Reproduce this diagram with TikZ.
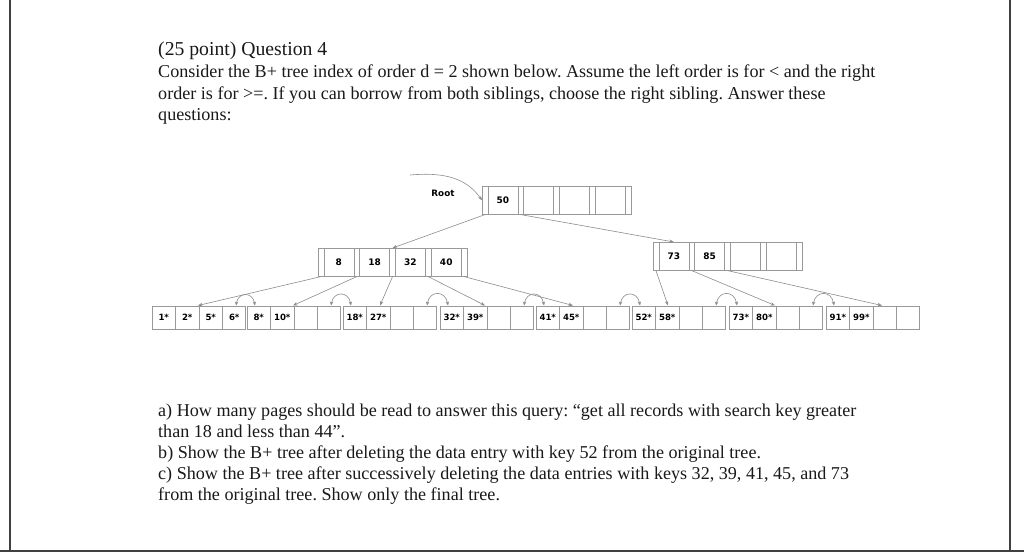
\documentclass[tikz,border=0pt]{standalone}
\usepackage{fontspec}
\setmainfont{Liberation Serif}
\newfontfamily\keyfont{DejaVu Sans}
\usetikzlibrary{shapes.multipart, arrows.meta, positioning}

\newcommand{\ks}[1]{\makebox[29.3pt]{#1}}
\newcommand{\ps}{\makebox[5.3pt]{}}
\newcommand{\lc}[1]{\makebox[22.9pt]{#1}}

\begin{document}
\frenchspacing
\begin{tikzpicture}[x=1pt, y=1pt,
    qtext/.style = {anchor=base west, inner sep=0pt, text=black!90, font=\fontsize{18.1}{22}\selectfont},
    qhead/.style = {qtext, font=\fontsize{19.7}{22}\selectfont},
    inode/.style = {rectangle split, rectangle split horizontal, rectangle split parts=9, draw=gray!80, line width=0.6pt, inner sep=0pt, minimum height=28pt, anchor=north west, font=\keyfont\bfseries\fontsize{9}{10}\selectfont},
    leaf/.style = {rectangle split, rectangle split horizontal, rectangle split parts=4, draw=gray!80, line width=0.6pt, inner sep=0pt, minimum height=23pt, anchor=north west, font=\keyfont\bfseries\fontsize{8.6}{10}\selectfont},
    ptr/.style = {draw=gray!90, ->, >={Stealth[length=4.5pt,width=3.5pt]}, line width=0.6pt},
    sib/.style = {draw=gray!90, <->, >={Stealth[length=4pt,width=3.5pt]}, line width=0.6pt, looseness=1.9},
    frame/.style = {draw=black!75, line width=2pt}
]
\useasboundingbox (0,0) rectangle (1024,-552);

% question text
\node[qhead] (q1) at (158,-55) {(25 point) Question 4};
\node[qtext] (q2) at (158,-77) {Consider the B+ tree index of order d = 2 shown below. Assume the left order is for < and the right};
\node[qtext] (q3) at (158,-99) {order is for >=. If you can borrow from both siblings, choose the right sibling. Answer these};
\node[qtext] (q4) at (158,-120) {questions:};

% tree
\node[inode] (root) at (482,-186) {\ps\nodepart{two}\ks{50}\nodepart{three}\ps\nodepart{four}\ks{}\nodepart{five}\ps\nodepart{six}\ks{}\nodepart{seven}\ps\nodepart{eight}\ks{}\nodepart{nine}\ps};
\node[inode] (rL) at (318,-248) {\ps\nodepart{two}\ks{8}\nodepart{three}\ps\nodepart{four}\ks{18}\nodepart{five}\ps\nodepart{six}\ks{32}\nodepart{seven}\ps\nodepart{eight}\ks{40}\nodepart{nine}\ps};
\node[inode] (rR) at (653,-242) {\ps\nodepart{two}\ks{73}\nodepart{three}\ps\nodepart{four}\ks{85}\nodepart{five}\ps\nodepart{six}\ks{}\nodepart{seven}\ps\nodepart{eight}\ks{}\nodepart{nine}\ps};

\node[leaf] (l1) at (152,-305.5) {\lc{1*}\nodepart{two}\lc{2*}\nodepart{three}\lc{5*}\nodepart{four}\lc{6*}};
\node[leaf] (l2) at (247,-305.5) {\lc{8*}\nodepart{two}\lc{10*}\nodepart{three}\lc{}\nodepart{four}\lc{}};
\node[leaf] (l3) at (343,-305.5) {\lc{18*}\nodepart{two}\lc{27*}\nodepart{three}\lc{}\nodepart{four}\lc{}};
\node[leaf] (l4) at (440,-305.5) {\lc{32*}\nodepart{two}\lc{39*}\nodepart{three}\lc{}\nodepart{four}\lc{}};
\node[leaf] (l5) at (536,-305.5) {\lc{41*}\nodepart{two}\lc{45*}\nodepart{three}\lc{}\nodepart{four}\lc{}};
\node[leaf] (l6) at (632,-305.5) {\lc{52*}\nodepart{two}\lc{58*}\nodepart{three}\lc{}\nodepart{four}\lc{}};
\node[leaf] (l7) at (729,-305.5) {\lc{73*}\nodepart{two}\lc{80*}\nodepart{three}\lc{}\nodepart{four}\lc{}};
\node[leaf] (l8) at (826,-305.5) {\lc{91*}\nodepart{two}\lc{99*}\nodepart{three}\lc{}\nodepart{four}\lc{}};

\node[font=\keyfont\bfseries\fontsize{8.8}{10}\selectfont, inner sep=0pt] (rootlbl) at (443,-193) {Root};
\coordinate (rootsrc) at (410,-175);
\draw[ptr] (rootsrc) to[out=5,in=125] (root.west);

\draw[ptr] (root.one south) -- (rL.five north);
\draw[ptr] (root.three south) -- (rR.two north);

\draw[ptr] (rL.one south) -- ([xshift=46pt]l1.north west);
\draw[ptr] (rL.three south) -- ([xshift=46pt]l2.north west);
\draw[ptr] (rL.five south) -- ([xshift=37pt]l3.north west);
\draw[ptr] (rL.seven south) -- ([xshift=45pt]l4.north west);
\draw[ptr] (rL.nine south) -- ([xshift=37pt]l5.north west);
\draw[ptr] (rR.one south) -- ([xshift=36pt]l6.north west);
\draw[ptr] (rR.three south) -- ([xshift=46pt]l7.north west);
\draw[ptr] (rR.five south) -- ([xshift=56pt]l8.north west);

% sibling links
\draw[sib] ([xshift=-10pt]l1.north east) to[out=80,in=100] ([xshift=8pt]l2.north west);
\draw[sib] ([xshift=-10pt]l2.north east) to[out=80,in=100] ([xshift=8pt]l3.north west);
\draw[sib] ([xshift=-10pt]l3.north east) to[out=80,in=100] ([xshift=8pt]l4.north west);
\draw[sib] ([xshift=-10pt]l4.north east) to[out=80,in=100] ([xshift=8pt]l5.north west);
\draw[sib] ([xshift=-10pt]l5.north east) to[out=80,in=100] ([xshift=8pt]l6.north west);
\draw[sib] ([xshift=-10pt]l6.north east) to[out=80,in=100] ([xshift=8pt]l7.north west);
\draw[sib] ([xshift=-10pt]l7.north east) to[out=80,in=100] ([xshift=8pt]l8.north west);

% sub-questions
\node[qtext] (qa1) at (158,-416) {a) How many pages should be read to answer this query: “get all records with search key greater};
\node[qtext] (qa2) at (158,-437) {than 18 and less than 44”.};
\node[qtext] (qb) at (158,-458) {b) Show the B+ tree after deleting the data entry with key 52 from the original tree.};
\node[qtext] (qc1) at (158,-479) {c) Show the B+ tree after successively deleting the data entries with keys 32, 39, 41, 45, and 73};
\node[qtext] (qc2) at (158,-500) {from the original tree. Show only the final tree.};

% page frame
\draw[frame] (10,0) -- (10,-552);
\draw[frame] (1010,0) -- (1010,-552);
\draw[frame] (0,-550.5) -- (1024,-550.5);
\end{tikzpicture}
\end{document}
